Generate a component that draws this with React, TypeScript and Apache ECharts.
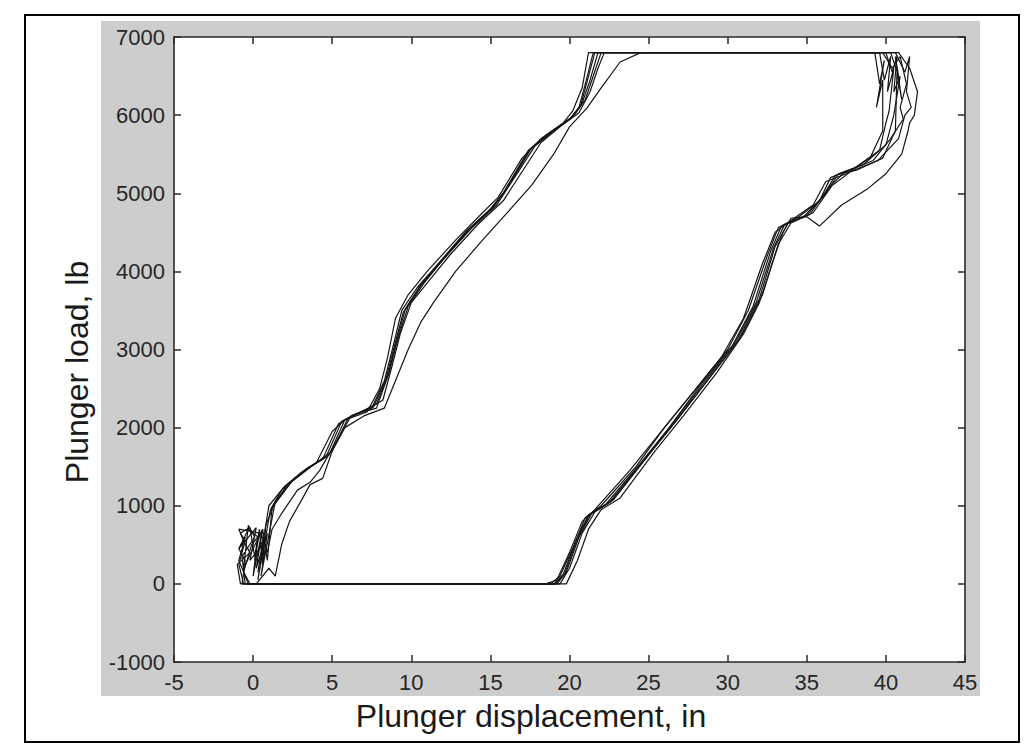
import React, { useEffect, useRef } from "react";
import * as echarts from "echarts";

// Plunger displacement (in) vs plunger load (lb), several overlaid pump strokes
const cycle1: number[][] = [
  [-0.6, 0], [-0.9, 250], [-0.5, 550], [-0.8, 650], [-0.2, 720], [0.1, 350], [0.4, 700], [0.6, 250], [0.8, 750],
  [1.0, 1000], [2.0, 1250], [3.4, 1480], [4.4, 1600], [5.4, 2050], [6.2, 2150], [7.5, 2250], [8.3, 2600],
  [8.8, 3000], [9.4, 3500], [10.4, 3800], [11.5, 4050], [13.4, 4500], [15.0, 4800], [15.8, 5000], [17.4, 5550],
  [18.6, 5750], [20.0, 5950], [20.6, 6100], [21.0, 6400], [21.5, 6800], [39.6, 6800], [39.9, 6450], [40.3, 6750],
  [40.1, 6300], [40.5, 6600], [40.2, 6050], [40.0, 5900], [39.6, 5550], [38.0, 5320], [36.5, 5200], [35.8, 4900],
  [34.5, 4700], [33.2, 4560], [32.5, 4200], [31.3, 3500], [30.0, 3000], [28.0, 2500], [26.0, 2000], [24.2, 1500],
  [22.0, 1000], [21.0, 850], [20.3, 500], [19.4, 100], [18.8, 0], [-0.6, 0],
];
const cycle2: number[][] = [
  [-0.3, 0], [-0.9, 300], [-0.5, 600], [-0.9, 450], [0.2, 720], [-0.2, 300], [0.6, 500], [0.3, 150], [0.8, 750],
  [1.3, 1000], [2.4, 1300],
  [3.8, 1520], [4.8, 1650], [5.8, 2100], [6.8, 2200], [7.8, 2300], [8.6, 2700], [9.1, 3100], [9.8, 3550],
  [10.8, 3850], [12.0, 4150], [13.8, 4550], [15.4, 4850], [16.2, 5100], [17.8, 5600], [19.0, 5800], [20.3, 6000],
  [21.0, 6200], [21.5, 6500], [22.0, 6800], [40.0, 6800], [40.4, 6550], [40.7, 6750], [40.5, 6300], [40.9, 6500],
  [40.5, 6000], [40.0, 5620], [38.6, 5370], [37.0, 5250], [36.2, 5000], [35.0, 4720], [33.6, 4600], [32.9, 4300],
  [31.8, 3600], [30.5, 3100], [28.6, 2600], [26.5, 2050], [24.8, 1600], [22.6, 1050], [21.4, 900], [20.6, 600],
  [19.8, 150], [19.2, 0], [-0.3, 0],
];
const cycle3: number[][] = [
  [-0.8, 0], [-1.0, 250], [-0.2, 400], [-0.6, 550], [-0.9, 700], [0.4, 650], [0.1, 300], [0.7, 600], [0.3, 50],
  [1.1, 950],
  [1.8, 1200], [3.0, 1420], [4.0, 1550], [5.0, 1950], [5.8, 2100], [7.2, 2200], [8.0, 2500], [8.5, 2900],
  [9.0, 3400], [9.8, 3700], [11.0, 4000], [12.8, 4400], [14.5, 4750], [15.5, 4950], [17.0, 5450], [18.2, 5700],
  [19.6, 5900], [20.2, 6050], [20.8, 6350], [21.2, 6800], [39.3, 6800], [39.6, 6400], [39.9, 6700], [39.4, 6100],
  [39.8, 6450], [39.8, 5800], [39.0, 5450], [37.5, 5250], [36.2, 5150], [35.4, 4850], [34.2, 4680], [33.0, 4500],
  [32.2, 4100], [31.0, 3400], [29.6, 2900], [27.6, 2400], [25.6, 1900], [23.8, 1450], [21.6, 950], [20.8, 800],
  [20.0, 400], [19.2, 50], [18.5, 0], [-0.8, 0],
];
const cycle4: number[][] = [
  [-0.5, 0], [-0.7, 350], [0.1, 600], [-0.3, 750], [-0.6, 200], [0.6, 700], [0.2, 200], [0.9, 650], [0.5, 100],
  [1.4, 1050],
  [2.6, 1350], [4.0, 1550], [5.0, 1700], [6.0, 2120], [6.6, 2180], [7.8, 2250], [8.5, 2650], [9.0, 3050],
  [9.6, 3500], [10.6, 3820], [11.8, 4100], [13.6, 4520], [15.2, 4830], [16.0, 5050], [17.6, 5580], [18.8, 5780],
  [20.2, 5980], [20.8, 6150], [21.3, 6450], [21.8, 6800], [40.3, 6800], [40.8, 6500], [40.6, 6750], [41.0, 6200],
  [40.7, 6550], [40.6, 5800], [39.8, 5450], [38.2, 5300], [36.8, 5230], [36.0, 4950], [34.8, 4700], [33.4, 4580],
  [32.7, 4250], [31.6, 3550], [30.3, 3050], [28.3, 2550], [26.3, 2000], [24.5, 1550], [22.3, 1020], [21.2, 880],
  [20.4, 550], [19.6, 120], [19.0, 0], [-0.5, 0],
];
const cycle5: number[][] = [
  [-0.2, 0], [-0.6, 150], [-0.1, 500], [0.5, 650], [0.9, 400], [1.2, 700], [1.8, 900], [2.8, 1200], [3.6, 1300],
  [4.2, 1450], [5.2, 1800], [6.2, 2150], [7.0, 2220], [8.2, 2350], [8.8, 2800], [9.3, 3200], [10.0, 3600],
  [11.2, 3900], [12.4, 4200], [14.2, 4600], [15.8, 4900], [16.6, 5150], [18.2, 5650], [19.4, 5850], [20.6, 6030],
  [21.3, 6300], [21.8, 6600], [22.2, 6800], [40.6, 6800], [41.2, 6550], [41.5, 6750], [41.3, 6300], [41.6, 6100],
  [41.2, 6000], [40.8, 5700], [39.5, 5420], [37.8, 5280], [36.6, 5100], [35.4, 4750], [34.0, 4620], [33.2, 4350],
  [32.2, 3700], [30.8, 3150], [28.9, 2650], [26.8, 2100], [25.0, 1650], [22.8, 1080], [21.6, 920], [20.8, 650],
  [20.0, 200], [19.4, 0], [-0.2, 0],
];
const cycle6: number[][] = [
  [-0.7, 0], [-0.5, 300], [-0.9, 450], [-0.3, 700], [0.3, 600], [0.0, 100], [0.6, 700], [0.9, 300], [1.2, 980],
  [2.2, 1280], [3.6, 1500], [4.6, 1620], [5.6, 2080], [6.4, 2160], [7.6, 2260], [8.4, 2620], [8.9, 3020],
  [9.5, 3480], [10.5, 3800], [11.6, 4070], [13.5, 4510], [15.1, 4810], [15.9, 5020], [17.5, 5560], [18.7, 5760],
  [20.1, 5960], [20.7, 6120], [21.1, 6420], [21.6, 6800], [39.8, 6800], [40.4, 6600], [40.9, 6750], [41.3, 6400],
  [40.9, 6100], [41.1, 5950], [40.3, 5700], [39.2, 5420], [37.4, 5270], [36.4, 5080], [35.2, 4730], [33.8, 4610],
  [33.0, 4320], [32.0, 3650], [30.6, 3100], [28.7, 2600], [26.6, 2050], [24.7, 1580], [22.5, 1040], [21.3, 890],
  [20.5, 580], [19.7, 130], [19.1, 0], [-0.7, 0],
];
const cycle7: number[][] = [
  [0.2, 0], [1.0, 200], [1.4, 100], [1.8, 500], [2.3, 800], [3.0, 1050], [3.6, 1270], [4.4, 1350], [5.0, 1700],
  [5.8, 2000], [7.0, 2150], [8.3, 2250], [9.0, 2600], [9.8, 3000], [10.6, 3350], [11.4, 3600], [12.8, 4000],
  [14.5, 4400], [16.5, 4850], [17.6, 5100], [19.0, 5500], [20.0, 5850], [21.1, 6090], [22.0, 6350], [23.2, 6680],
  [24.5, 6800], [25.0, 6800], [40.8, 6800], [41.5, 6600], [42.0, 6300], [41.8, 6000], [41.5, 5900], [41.4, 5800],
  [41.0, 5500], [40.0, 5250], [38.8, 5050], [37.2, 4850], [35.8, 4580], [35.0, 4700], [34.0, 4680], [33.5, 4500],
  [32.8, 4100], [32.0, 3600], [31.0, 3200], [29.3, 2700], [27.2, 2150], [25.4, 1700], [23.2, 1100], [22.0, 950],
  [21.2, 700], [20.5, 300], [19.8, 0], [0.2, 0],
];
const cycles = [cycle1, cycle2, cycle3, cycle4, cycle5, cycle6, cycle7];

const xMin = -5, xMax = 45, xStep = 5;
const yMin = -1000, yMax = 7000, yStep = 1000;
const xTitle = "Plunger displacement, in";
const yTitle = "Plunger load, lb";

export default function App() {
  const ref = useRef<HTMLDivElement>(null);
  useEffect(() => {
    if (!ref.current) return;
    const chart = echarts.init(ref.current, null, { renderer: "svg" });
    const axisCommon = {
      type: "value" as const,
      axisLine: { show: true, onZero: false, lineStyle: { color: "#2a2a2a", width: 1.6 } },
      axisTick: { show: true, inside: true, length: 7, lineStyle: { color: "#2a2a2a", width: 1.5 } },
      splitLine: { show: false },
    };
    const labelStyle = {
      color: "#262626", fontSize: 22, fontFamily: "Liberation Sans, Arial, sans-serif",
      formatter: (v: number) => String(v),
    };
    chart.setOption({
      animation: false,
      backgroundColor: "#ffffff",
      graphic: [
        { type: "rect", z: -10, shape: { x: 25, y: 15, width: 994, height: 727 }, style: { fill: "#fff", stroke: "#000", lineWidth: 2 } },
        { type: "rect", z: -9, shape: { x: 101, y: 21, width: 879, height: 675 }, style: { fill: "#cdcdcd" } },
        {
          type: "text", z: 10, x: 531, y: 716,
          style: { text: xTitle, font: "32px Liberation Sans, Arial, sans-serif", fill: "#1a1a1a", textAlign: "center", textVerticalAlign: "middle", align: "center", verticalAlign: "middle" },
        },
        {
          type: "text", z: 10, x: 77, y: 372, rotation: Math.PI / 2,
          style: { text: yTitle, font: "32px Liberation Sans, Arial, sans-serif", fill: "#1a1a1a", textAlign: "center", textVerticalAlign: "middle", align: "center", verticalAlign: "middle" },
        },
      ],
      grid: { left: 174, right: 68, top: 37, bottom: 83, show: true, backgroundColor: "#ffffff", borderWidth: 0, containLabel: false },
      xAxis: [
        { ...axisCommon, position: "bottom", min: xMin, max: xMax, interval: xStep, axisLabel: { ...labelStyle, margin: 9 } },
        { ...axisCommon, position: "top", min: xMin, max: xMax, interval: xStep, axisLabel: { show: false } },
      ],
      yAxis: [
        { ...axisCommon, position: "left", min: yMin, max: yMax, interval: yStep, axisLabel: { ...labelStyle, margin: 9 } },
        { ...axisCommon, position: "right", min: yMin, max: yMax, interval: yStep, axisLabel: { show: false } },
      ],
      series: cycles.map((c, i) => ({
        name: "cycle " + (i + 1),
        type: "line",
        data: c,
        showSymbol: false,
        symbol: "none",
        lineStyle: { color: "#151515", width: 1.2 },
        z: 5,
      })),
    });
    return () => chart.dispose();
  }, []);
  return <div ref={ref} style={{ position: "fixed", left: 0, top: 0, width: 1033, height: 745, background: "#fff" }} />;
}
